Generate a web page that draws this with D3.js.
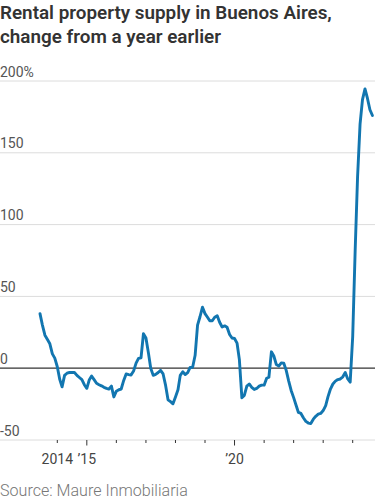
<!DOCTYPE html>
<html>
<head>
<meta charset="utf-8">
<script src="https://cdn.jsdelivr.net/npm/d3@7"></script>
<style>
  body { margin: 0; background: #fff; }
  svg { display: block; }
</style>
</head>
<body>
<svg id="chart" width="375" height="500"></svg>
<script>
// monthly values, % change from a year earlier, Jun 2013 .. Sep 2024
const startMonth = new Date(2013, 5, 1);
const supplyChange = [
  38, 30, 23, 20, 17, 10, 7, 1, -8, -13,
  -5, -3.5, -3, -3, -3, -5, -6.5, -8, -11.5, -14,
  -8, -5.5, -8, -10.5, -11.5, -12.3, -13.3, -14, -14.5, -12.5,
  -20, -16, -15, -14.5, -8.5, -4, -4.5, -4.8, -2, 3.5,
  6.8, 7.2, 24, 21, 10.5, 0, -5, -4.3, -3, -1.5,
  -4, -12, -22, -23.3, -24.8, -20, -15, -5, -2.5, -4.4,
  -3, 0.5, 0.7, 9, 30, 36, 42.5, 38, 35.5, 33,
  33, 35.5, 36.5, 32, 28.7, 29.5, 28.5, 23.5, 21, 20.7,
  17.5, 6, -20.6, -19, -12.5, -11, -13.3, -14.8, -14.1, -12.5,
  -11.8, -11.8, -7, -6.3, 11.4, 8.5, 2.5, 1.5, 3.7, 3.5,
  -1.5, -9, -15.5, -20.5, -26, -30.8, -31.5, -34.5, -37, -38.2,
  -38.5, -35.5, -33.5, -32, -31.5, -29.5, -26, -20, -14.5, -11,
  -9, -7.9, -7.5, -6, -3, -7.5, -9.7, 22, 83, 133,
  170, 187, 194.5, 188, 180, 176
];
const yTicks = [-50, 0, 50, 100, 150, 200];
const yTickLabels = ["-50", "0", "50", "100", "150", "200%"];
const xTickYears = [2014, 2015, 2016, 2017, 2018, 2019, 2020, 2021, 2022, 2023, 2024];
const xTickLabels = {2014: "2014", 2015: "\u201915", 2020: "\u201920"};
const titleLines = ["Rental property supply in Buenos Aires,", "change from a year earlier"];
const sourceText = "Source: Maure Inmobiliaria";

const data = supplyChange.map((v, i) => ({date: d3.timeMonth.offset(startMonth, i), value: v}));

const chart = d3.select("#chart");
const width = 375;
const font = "Roboto, 'Noto Sans', sans-serif";

const x = d3.scaleTime()
  .domain([new Date(2014, 0, 1), new Date(2024, 0, 1)])
  .range([57.3, 352.7]);
const y = d3.scaleLinear()
  .domain([-50, 200])
  .range([440, 81]);

// fit a text element to a target width
const fitWidth = (sel, target) => {
  let w = sel.node().getComputedTextLength();
  let fs = parseFloat(sel.attr("font-size"));
  sel.attr("font-size", fs * target / w);
};

// title
let title = chart.append("g");
titleLines.forEach((t, i) => {
  let tx = title.append("text")
    .attr("x", 0)
    .attr("y", 19 + i * 24)
    .attr("font-family", font)
    .attr("font-weight", 600)
    .attr("font-size", 19)
    .attr("fill", "#333")
    .text(t);
  if (i == 0) fitWidth(tx, 332);
  else tx.attr("font-size", title.select("text").attr("font-size"));
});

// gridlines + y labels
let grid = chart.append("g");
grid.selectAll("line")
  .data(yTicks.filter(d => d != 0))
  .enter().append("line")
    .attr("x1", 0)
    .attr("x2", width)
    .attr("y1", d => y(d))
    .attr("y2", d => y(d))
    .attr("stroke", "#dcdcdc")
    .attr("stroke-width", 1);

grid.selectAll("text")
  .data(yTicks)
  .enter().append("text")
    .attr("x", 0)
    .attr("y", d => y(d) - 4.5)
    .attr("font-family", font)
    .attr("font-size", 14)
    .attr("fill", "#555")
    .text((d, i) => yTickLabels[i]);

// x axis ticks
let xAxis = chart.append("g");
xAxis.selectAll("line")
  .data(xTickYears)
  .enter().append("line")
    .attr("x1", d => x(new Date(d, 0, 1)))
    .attr("x2", d => x(new Date(d, 0, 1)))
    .attr("y1", y(-50))
    .attr("y2", d => y(-50) + (d == 2015 || d == 2020 ? 5.5 : 3))
    .attr("stroke", "#333")
    .attr("stroke-width", 1);

xAxis.selectAll("text")
  .data(xTickYears.filter(d => xTickLabels[d]))
  .enter().append("text")
    .attr("x", d => x(new Date(d, 0, 1)))
    .attr("y", 464)
    .attr("text-anchor", "middle")
    .attr("font-family", font)
    .attr("font-size", 14)
    .attr("fill", "#444")
    .text(d => xTickLabels[d]);

// zero line
chart.append("line")
  .attr("x1", 0)
  .attr("x2", width)
  .attr("y1", y(0))
  .attr("y2", y(0))
  .attr("stroke", "#333")
  .attr("stroke-width", 1.2);

// the series
let line = d3.line()
  .x(d => x(d.date))
  .y(d => y(d.value));

chart.append("path")
  .datum(data)
  .attr("d", line)
  .attr("fill", "none")
  .attr("stroke", "#1276b0")
  .attr("stroke-width", 2.9)
  .attr("stroke-linejoin", "round")
  .attr("stroke-linecap", "round");

// source
let src = chart.append("text")
  .attr("x", 0)
  .attr("y", 496)
  .attr("font-family", font)
  .attr("font-weight", 300)
  .attr("font-size", 15)
  .attr("fill", "#777")
  .text(sourceText);
fitWidth(src, 188);
</script>
</body>
</html>
